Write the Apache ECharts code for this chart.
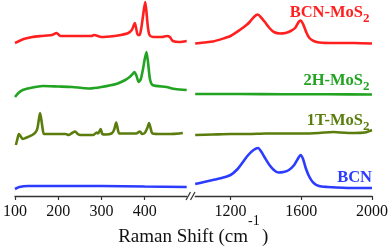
<!DOCTYPE html>
<html><head><meta charset="utf-8">
<script src="https://cdn.jsdelivr.net/npm/echarts@6/dist/echarts.min.js"></script>
<style>html,body{margin:0;padding:0;background:#fff}#c{width:391px;height:250px}</style>
</head><body><div id="c"></div>
<script>
// Raman shift (cm-1), intensity (a.u., offset stacked)
const lowTicks = [100, 200, 300, 400];
const lowMinor = [150, 250, 350, 450];
const highTicks = [1200, 1600, 2000];
const highMinor = [1400, 1800];

const bcnMos2Low = [[100,153],[110,155],[120,157],[140,159],[160,160],[185,161],[196,163],[205,160],[230,160],[260,160],[277,160],[283,161],[300,159],[330,160],[345,161],[362,163],[370,166],[374,170],[377,173],[380,168],[384,161],[388,161],[392,168],[396,180],[401,194],[404,184],[407,170],[411,161],[420,159],[440,159],[451,160],[458,159],[465,155],[480,154],[497,155]];
const bcnMos2High = [[1000,152.5],[1050,153.5],[1100,154.5],[1168,158],[1200,160],[1252,166],[1290,171],[1308,174],[1335,179.5],[1354,181.5],[1375,178],[1394,174],[1420,168],[1445,164],[1480,162.5],[1510,163],[1540,165],[1565,168],[1585,174],[1596,175.5],[1610,172],[1630,163],[1646,158],[1670,155],[1702,153.5],[1780,153],[1900,153],[2000,152.5]];

const h2Mos2Low = [[100,99],[108,103],[118,106],[135,108],[164,110],[200,109.5],[232,109],[255,108],[273,107.5],[300,109],[334,112],[355,116],[365,119],[372,122],[376,124],[381,120],[386,114],[391,117],[396,127],[400,137],[404,144],[408,132],[412,117],[418,111],[450,109],[470,107],[497,106]];
const h2Mos2High = [[1000,102],[1250,102],[1500,101.8],[1750,101.7],[2000,101.5]];

const t1Mos2Low = [[102,51],[105,56],[109,62],[114,59],[118,57],[124,58],[130,59],[140,61],[148,64],[152,68],[155,76],[158,83],[161,76],[164,67],[167,62],[180,62],[200,62],[217,62],[224,61],[232,63],[239,64.5],[245,62],[251,61],[270,61],[281,61],[289,63.5],[292,62.5],[298,67],[302,62],[310,61.5],[323,62.5],[329,66],[334,73.5],[338,66],[341,62.5],[360,62.5],[380,62.5],[389,64.5],[394,62],[400,63],[406,68],[410,73],[414,67],[418,62.5],[440,62],[460,62],[480,62.5],[488,63]];
const t1Mos2High = [[1000,61],[1100,61.5],[1200,62],[1300,62],[1400,62.5],[1500,62.5],[1600,62.5],[1700,63],[1780,64],[1820,63.5],[1900,63],[1960,63.5],[1985,65],[2000,66]];

const bcnLow = [[100,7],[110,9],[130,10],[200,10],[300,10],[400,9.5],[497,9]];
const bcnHigh = [[1000,12],[1050,14],[1100,16],[1150,18],[1200,21],[1240,27],[1270,34],[1300,41],[1330,46],[1356,48],[1375,44],[1395,38],[1420,31],[1445,26],[1470,23.5],[1500,24],[1530,26],[1560,31],[1580,37],[1596,41],[1610,37],[1625,28],[1646,19],[1670,13],[1700,10],[1750,9],[1800,8.5],[1900,8],[2000,8]];

const colRed = '#ff1f1f', colGreen = '#22a322', colOlive = '#5a7d0e', colBlue = '#2b3cff';
const serif = '"Liberation Serif","Times New Roman",serif';
const axisCol = '#333';

function line(data, color, xi) {
  return { type: 'line', data: data, xAxisIndex: xi, yAxisIndex: xi % 2 === 0 ? 0 : 1,
    showSymbol: false, smooth: 0.25, lineStyle: { color: color, width: 2.6 }, itemStyle: { color: color }, animation: false, z: 3 };
}
function mainAx(grid, min, max, ticks) {
  return { type: 'value', gridIndex: grid, min: min, max: max, interval: 100 * (grid + 1),
    axisLine: { show: true, lineStyle: { color: axisCol, width: 1.3 } },
    axisTick: { show: true, length: 4, customValues: ticks, lineStyle: { color: axisCol, width: 1.2 } },
    axisLabel: { show: true, customValues: ticks, margin: 8, color: '#111', fontSize: 16, fontFamily: serif,
      formatter: function (v) { return String(v); } },
    splitLine: { show: false } };
}
function minorAx(grid, min, max, ticks) {
  return { type: 'value', gridIndex: grid, min: min, max: max,
    axisLine: { show: false }, axisTick: { show: true, length: 2.5, customValues: ticks, lineStyle: { color: axisCol, width: 1.2 } },
    axisLabel: { show: false }, splitLine: { show: false } };
}
function txt(x, y, text, size, color, align, weight) {
  return { type: 'text', x: x, y: y, z: 10, style: { text: text, fontSize: size, fontFamily: serif, fontWeight: weight || 'bold',
    fill: color, align: align, textAlign: align, verticalAlign: 'middle', textVerticalAlign: 'middle' } };
}

const chart = echarts.init(document.getElementById('c'), null, { renderer: 'canvas' });
chart.setOption({
  animation: false,
  grid: [
    { left: 12, top: 0, width: 174.7, height: 196 },
    { left: 195.2, top: 0, width: 177.5, height: 196 }
  ],
  xAxis: [
    mainAx(0, 100, 497, lowTicks),
    mainAx(1, 1000, 2000, highTicks),
    minorAx(0, 100, 497, lowMinor),
    minorAx(1, 1000, 2000, highMinor)
  ],
  yAxis: [
    { type: 'value', gridIndex: 0, min: 0, max: 196, show: false },
    { type: 'value', gridIndex: 1, min: 0, max: 196, show: false }
  ],
  series: [
    line(bcnLow, colBlue, 0), line(bcnHigh, colBlue, 1),
    line(t1Mos2Low, colOlive, 0), line(t1Mos2High, colOlive, 1),
    line(h2Mos2Low, colGreen, 0), line(h2Mos2High, colGreen, 1),
    line(bcnMos2Low, colRed, 0), line(bcnMos2High, colRed, 1)
  ],
  graphic: [
    { type: 'line', shape: { x1: 186, y1: 200, x2: 190.5, y2: 192 }, style: { stroke: axisCol, lineWidth: 1.2 } },
    { type: 'line', shape: { x1: 190.5, y1: 200, x2: 195, y2: 192 }, style: { stroke: axisCol, lineWidth: 1.2 } },
    txt(363, 13, 'BCN-MoS', 16.5, colRed, 'right'), txt(363, 19, '2', 13, colRed, 'left'),
    txt(363, 81, '2H-MoS', 16.5, colGreen, 'right'), txt(363, 87, '2', 13, colGreen, 'left'),
    txt(363, 121, '1T-MoS', 16.5, colOlive, 'right'), txt(363, 127, '2', 13, colOlive, 'left'),
    txt(372, 178, 'BCN', 16.5, colBlue, 'right'),
    txt(248, 237, 'Raman Shift (cm', 19, '#111', 'right', 'normal'),
    txt(248, 221, '-1', 14, '#111', 'left', 'normal'),
    txt(262, 237, ')', 19, '#111', 'left', 'normal')
  ]
});
</script></body></html>
